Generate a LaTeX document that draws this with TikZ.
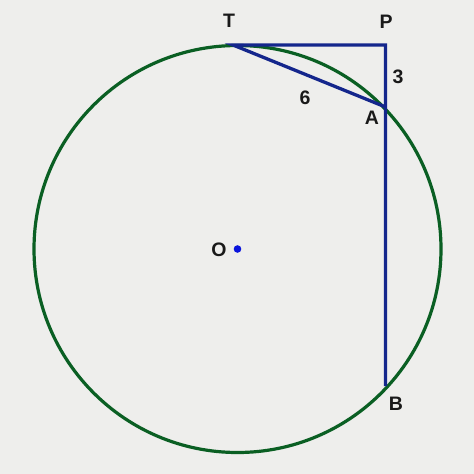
\documentclass[tikz,border=0pt]{standalone}
\usepackage{fontspec}
\setmainfont{Liberation Sans}
\definecolor{bgc}{RGB}{238,238,236}
\definecolor{segc}{RGB}{20,38,140}
\definecolor{circc}{RGB}{10,95,35}
\definecolor{dotc}{RGB}{10,20,220}
\begin{document}
\begin{tikzpicture}[x=1pt,y=-1pt,
  lbl/.style={font=\fontsize{19.5}{19.5}\selectfont\bfseries, text=black!90, inner sep=0pt},
  seg/.style={draw=segc, line width=3.3pt, line join=miter},
  circ/.style={draw=circc, line width=3.2pt}]
\fill[bgc] (0,0) rectangle (474,474);
\useasboundingbox (0,0) rectangle (474,474);
\coordinate (O) at (237.5,249);
\coordinate (T) at (233,45);
\coordinate (P) at (385.5,45);
\coordinate (A) at (385.5,107);
\coordinate (B) at (385.5,386);
\draw[circ] (O) circle (203.5);
\draw[seg] (A) -- (T) -- (P) -- (B);
\fill[dotc] (O) circle (3.8);
\node[lbl] (lT) at (229,21) {T};
\node[lbl] (lP) at (386,22) {P};
\node[lbl] (l3) at (398,77) {3};
\node[lbl] (l6) at (305,98) {6};
\node[lbl] (lA) at (372,118) {A};
\node[lbl] (lO) at (219,250) {O};
\node[lbl] (lB) at (396,404) {B};
\end{tikzpicture}
\end{document}
